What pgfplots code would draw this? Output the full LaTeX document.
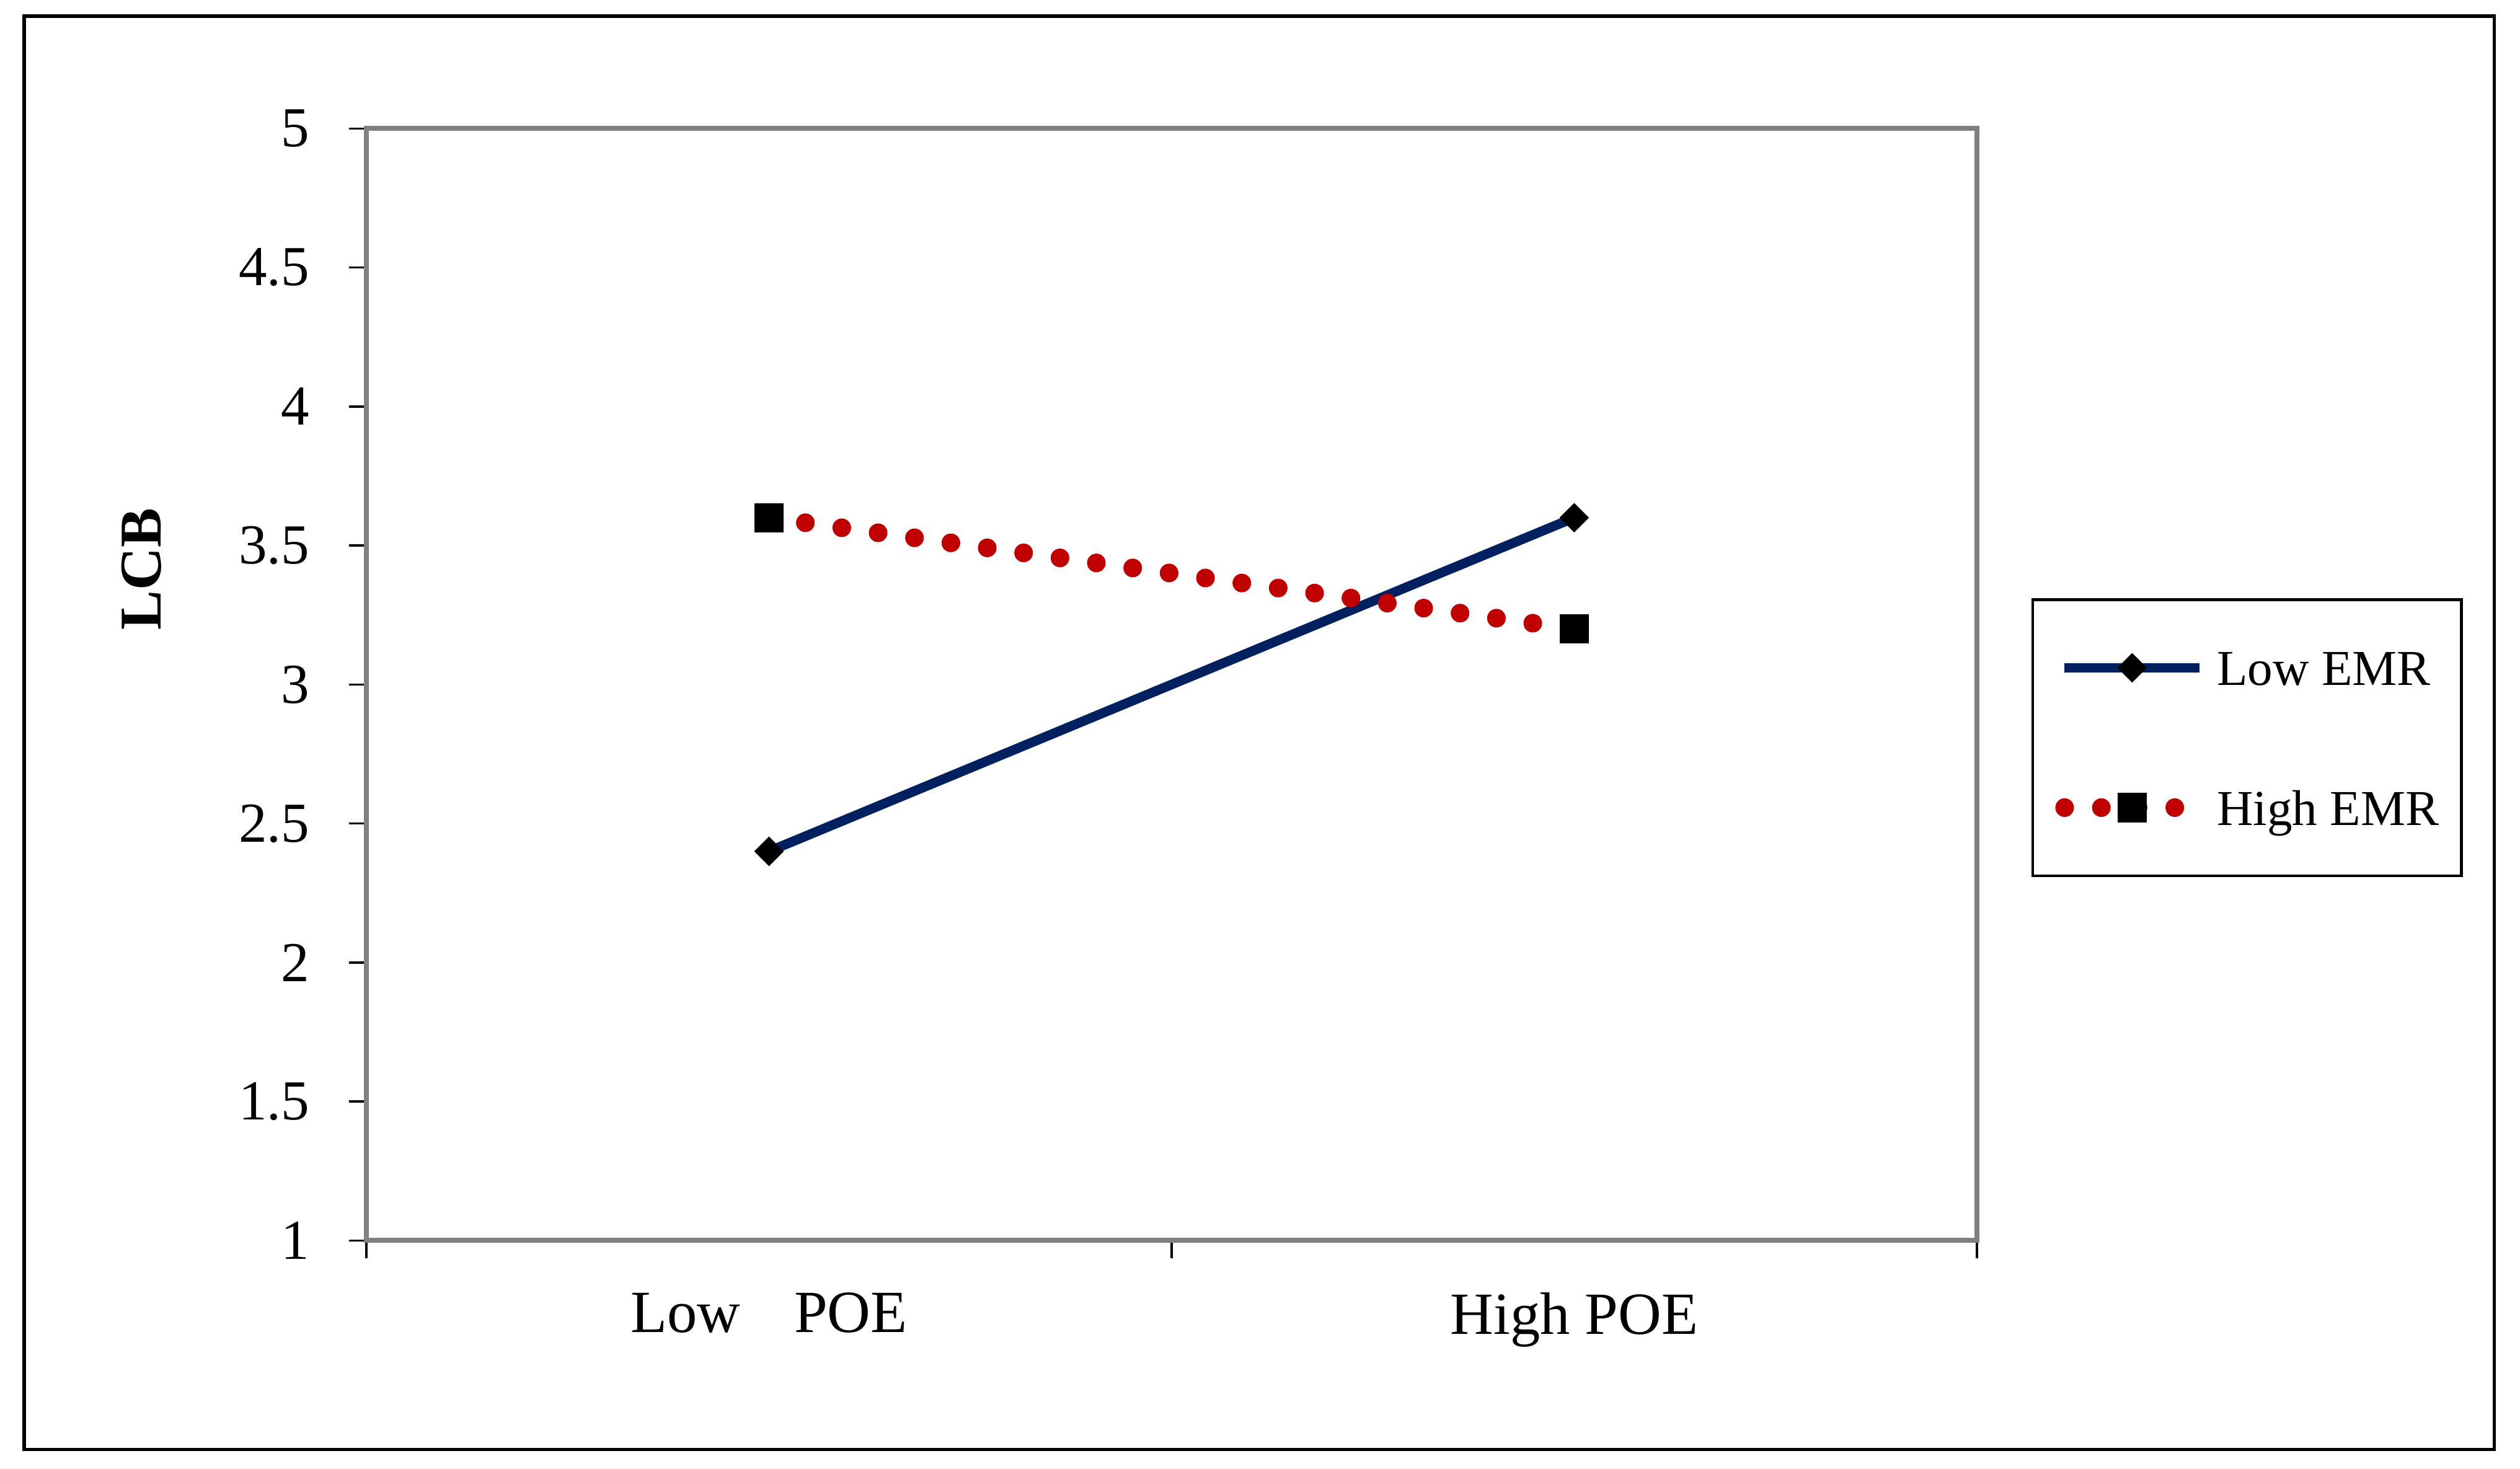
\documentclass[border=0pt]{standalone}
\usepackage{fontspec}
\setmainfont{Liberation Serif}
\usepackage{pgfplots}
\pgfplotsset{compat=1.18}
\definecolor{emrblue}{RGB}{0,32,96}
\definecolor{emrred}{RGB}{192,0,0}
\definecolor{boxgray}{RGB}{128,128,128}

\begin{document}
\begin{tikzpicture}
\begin{axis}[
  scale only axis,
  width=10.02cm, height=6.92cm,
  xmin=0, xmax=2, ymin=1, ymax=5,
  clip=false,
  axis lines*=left,
  axis line style={-, black, line width=0.5pt},
  tick align=outside,
  major tick length=0.11cm,
  tick style={black, line width=0.4pt},
  xtick={0,1,2}, xticklabels={},
  extra x ticks={0.5,1.5},
  extra x tick labels={Low\hspace{0.9em}POE, High POE},
  extra x tick style={major tick length=0pt,
    tick label style={font=\fontsize{10.6}{12}\selectfont, yshift=-0.2cm}},
  ytick={1,1.5,2,2.5,3,3.5,4,4.5,5},
  yticklabel style={font=\fontsize{10}{12}\selectfont, xshift=-0.12cm},
  /pgf/number format/assume math mode=true,
  ylabel={\textbf{LCB}},
  ylabel style={at={(axis description cs:-0.1397,0.604)}, anchor=center,
    font=\fontsize{10.5}{12}\selectfont},
  legend cell align=left,
  legend style={at={(axis description cs:1.0339,0.3266)}, anchor=south west,
    draw=black, line width=0.5pt, fill=white,
    inner xsep=0.14cm, inner ysep=0.275cm, row sep=0.57cm, column sep=0.05cm,
    font=\fontsize{8.9}{10}\selectfont,
    nodes={inner sep=0pt, text height=0.26cm, text depth=0.04cm}},
  legend image code/.code={
    \draw[mark repeat=2, mark phase=2, #1]
      plot coordinates {(0cm,0cm) (0.42cm,0cm) (0.84cm,0cm)};},
]
% plot area frame
\draw[boxgray, line width=0.9pt] (rel axis cs:0,0) rectangle (rel axis cs:1,1);

\addplot[emrblue, line width=1.7pt, mark=square*,
  mark options={black, fill=black, solid, rotate=45, mark size=1.75pt, line width=0.2pt}]
  coordinates {(0.5,2.4) (1.5,3.6)};
\addlegendentry{Low EMR}

\addplot[emrred, line width=3.3pt, line cap=round, dash pattern=on 0pt off 6.5pt,
  mark=square*,
  mark options={black, fill=black, solid, mark size=2.5pt, line width=0.2pt}]
  coordinates {(0.5,3.6) (1.5,3.2)};
\addlegendentry{High EMR}

% outer frame and page margin
\draw[black, line width=0.6pt] ([xshift=-2.13cm,yshift=-1.30cm]rel axis cs:0,0)
  rectangle ([xshift=3.22cm,yshift=0.70cm]rel axis cs:1,1);
\path ([xshift=-2.28cm,yshift=-1.42cm]rel axis cs:0,0)
  rectangle ([xshift=3.38cm,yshift=0.80cm]rel axis cs:1,1);
\end{axis}
\end{tikzpicture}
\end{document}
